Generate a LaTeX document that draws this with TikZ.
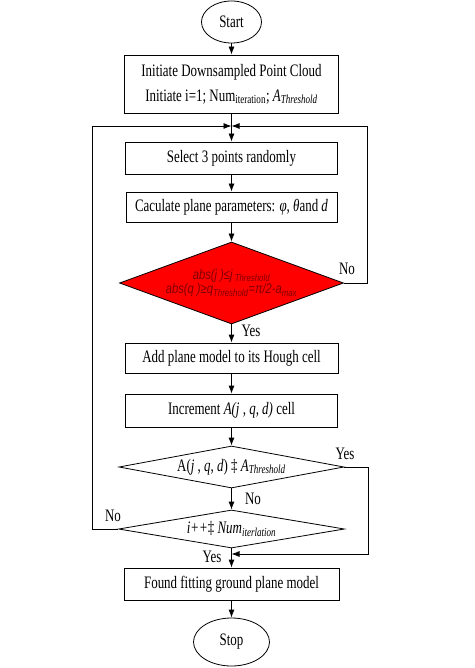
\documentclass[tikz,border=0pt]{standalone}
\usepackage{fontspec}
\setmainfont{Liberation Serif}[FakeStretch=0.74]
\newfontfamily\condsans{Liberation Sans}[FakeStretch=0.8]
\usepackage{xcolor}
\usetikzlibrary{shapes.geometric, arrows.meta}
\definecolor{darkred}{RGB}{128,0,0}
\definecolor{fillred}{RGB}{255,0,0}

\begin{document}
\begin{tikzpicture}[x=1pt, y=-1pt, line width=0.8pt,
        font=\fontsize{17.5}{25}\selectfont,
        box/.style={draw, rectangle, inner sep=0pt, align=center},
        term/.style={draw, ellipse, inner sep=0pt},
        cond/.style={draw, diamond, inner sep=0pt, align=center},
        arr/.style={-{Latex[length=8pt, width=6pt]}}]
    \def\cx{231.5}
    \def\lx{92}
    \def\rx{367}
    \useasboundingbox (0,0) rectangle (474,668);
    \node[term, minimum width=60, minimum height=42] (start) at (\cx,22) {Start};
    \node[box, minimum width=214, minimum height=58] (init) at (\cx,84) {Initiate Downsampled Point Cloud\\Initiate i=1; Num\textsubscript{iteration}; \textit{A\textsubscript{Threshold}}};
    \coordinate (join) at (\cx,126);
    \coordinate (left) at (\lx,126);
    \coordinate (right) at (\rx,126);
    \node[box, minimum width=212, minimum height=32] (sel) at (\cx,158) {Select 3 points randomly};
    \node[box, minimum width=211, minimum height=30] (calc) at (\cx,207) {Caculate plane parameters: \textit{φ}, \textit{θ}and \textit{d}};
    \node[cond, fill=fillred, aspect=2.73, minimum width=224, minimum height=82, text=darkred,
        font=\condsans\itshape\fontsize{14}{14.5}\selectfont] (d1) at (\cx,283)
        {abs(j )≤j\textsubscript{ Threshold}\\abs(q )≥q\textsubscript{Threshold}=π/2-a\textsubscript{max}};
    \node[box, minimum width=213, minimum height=30] (add) at (\cx,358) {Add plane model to its Hough cell};
    \node[box, minimum width=212, minimum height=33] (inc) at (\cx,410.5) {Increment \textit{A(j , q, d)} cell};
    \node[cond, aspect=5.36, minimum width=225, minimum height=42] (d2) at (\cx,467) {A(\textit{j} , \textit{q}, \textit{d}) ‡ \textit{A\textsubscript{Threshold}}};
    \node[cond, aspect=5.95, minimum width=226, minimum height=38] (d3) at (\cx,529) {\textit{i++}‡ \textit{Num\textsubscript{iterlation}}};
    \coordinate (join2) at (\cx,554);
    \coordinate (right2) at (368,554);
    \node[box, minimum width=215, minimum height=32] (found) at (\cx,584) {Found fitting ground plane model};
    \node[term, minimum width=76, minimum height=48] (stop) at (\cx,642) {Stop};
    \node (no1) at (347,269) {No};
    \node (yes1) at (251,331) {Yes};
    \node (yes2) at (345,454) {Yes};
    \node (no2) at (253,499) {No};
    \node (no3) at (113,516) {No};
    \node (yes3) at (212,557) {Yes};
    \draw[arr] (start) -- (init);
    \draw[arr] (init) -- (sel);
    \draw[arr] (sel) -- (calc);
    \draw[arr] (calc) -- (d1);
    \draw[arr] (d1) -- (add);
    \draw[arr] (add) -- (inc);
    \draw[arr] (inc) -- (d2);
    \draw[arr] (d2) -- (d3);
    \draw[arr] (d3) -- (found);
    \draw[arr] (found) -- (stop);
    \draw[arr] (d1.east) -| (right) -- (join);
    \draw[arr] (d3.west) -| (left) -- (join);
    \draw[arr] (d2.east) -| (right2) -- (join2);
\end{tikzpicture}
\end{document}
